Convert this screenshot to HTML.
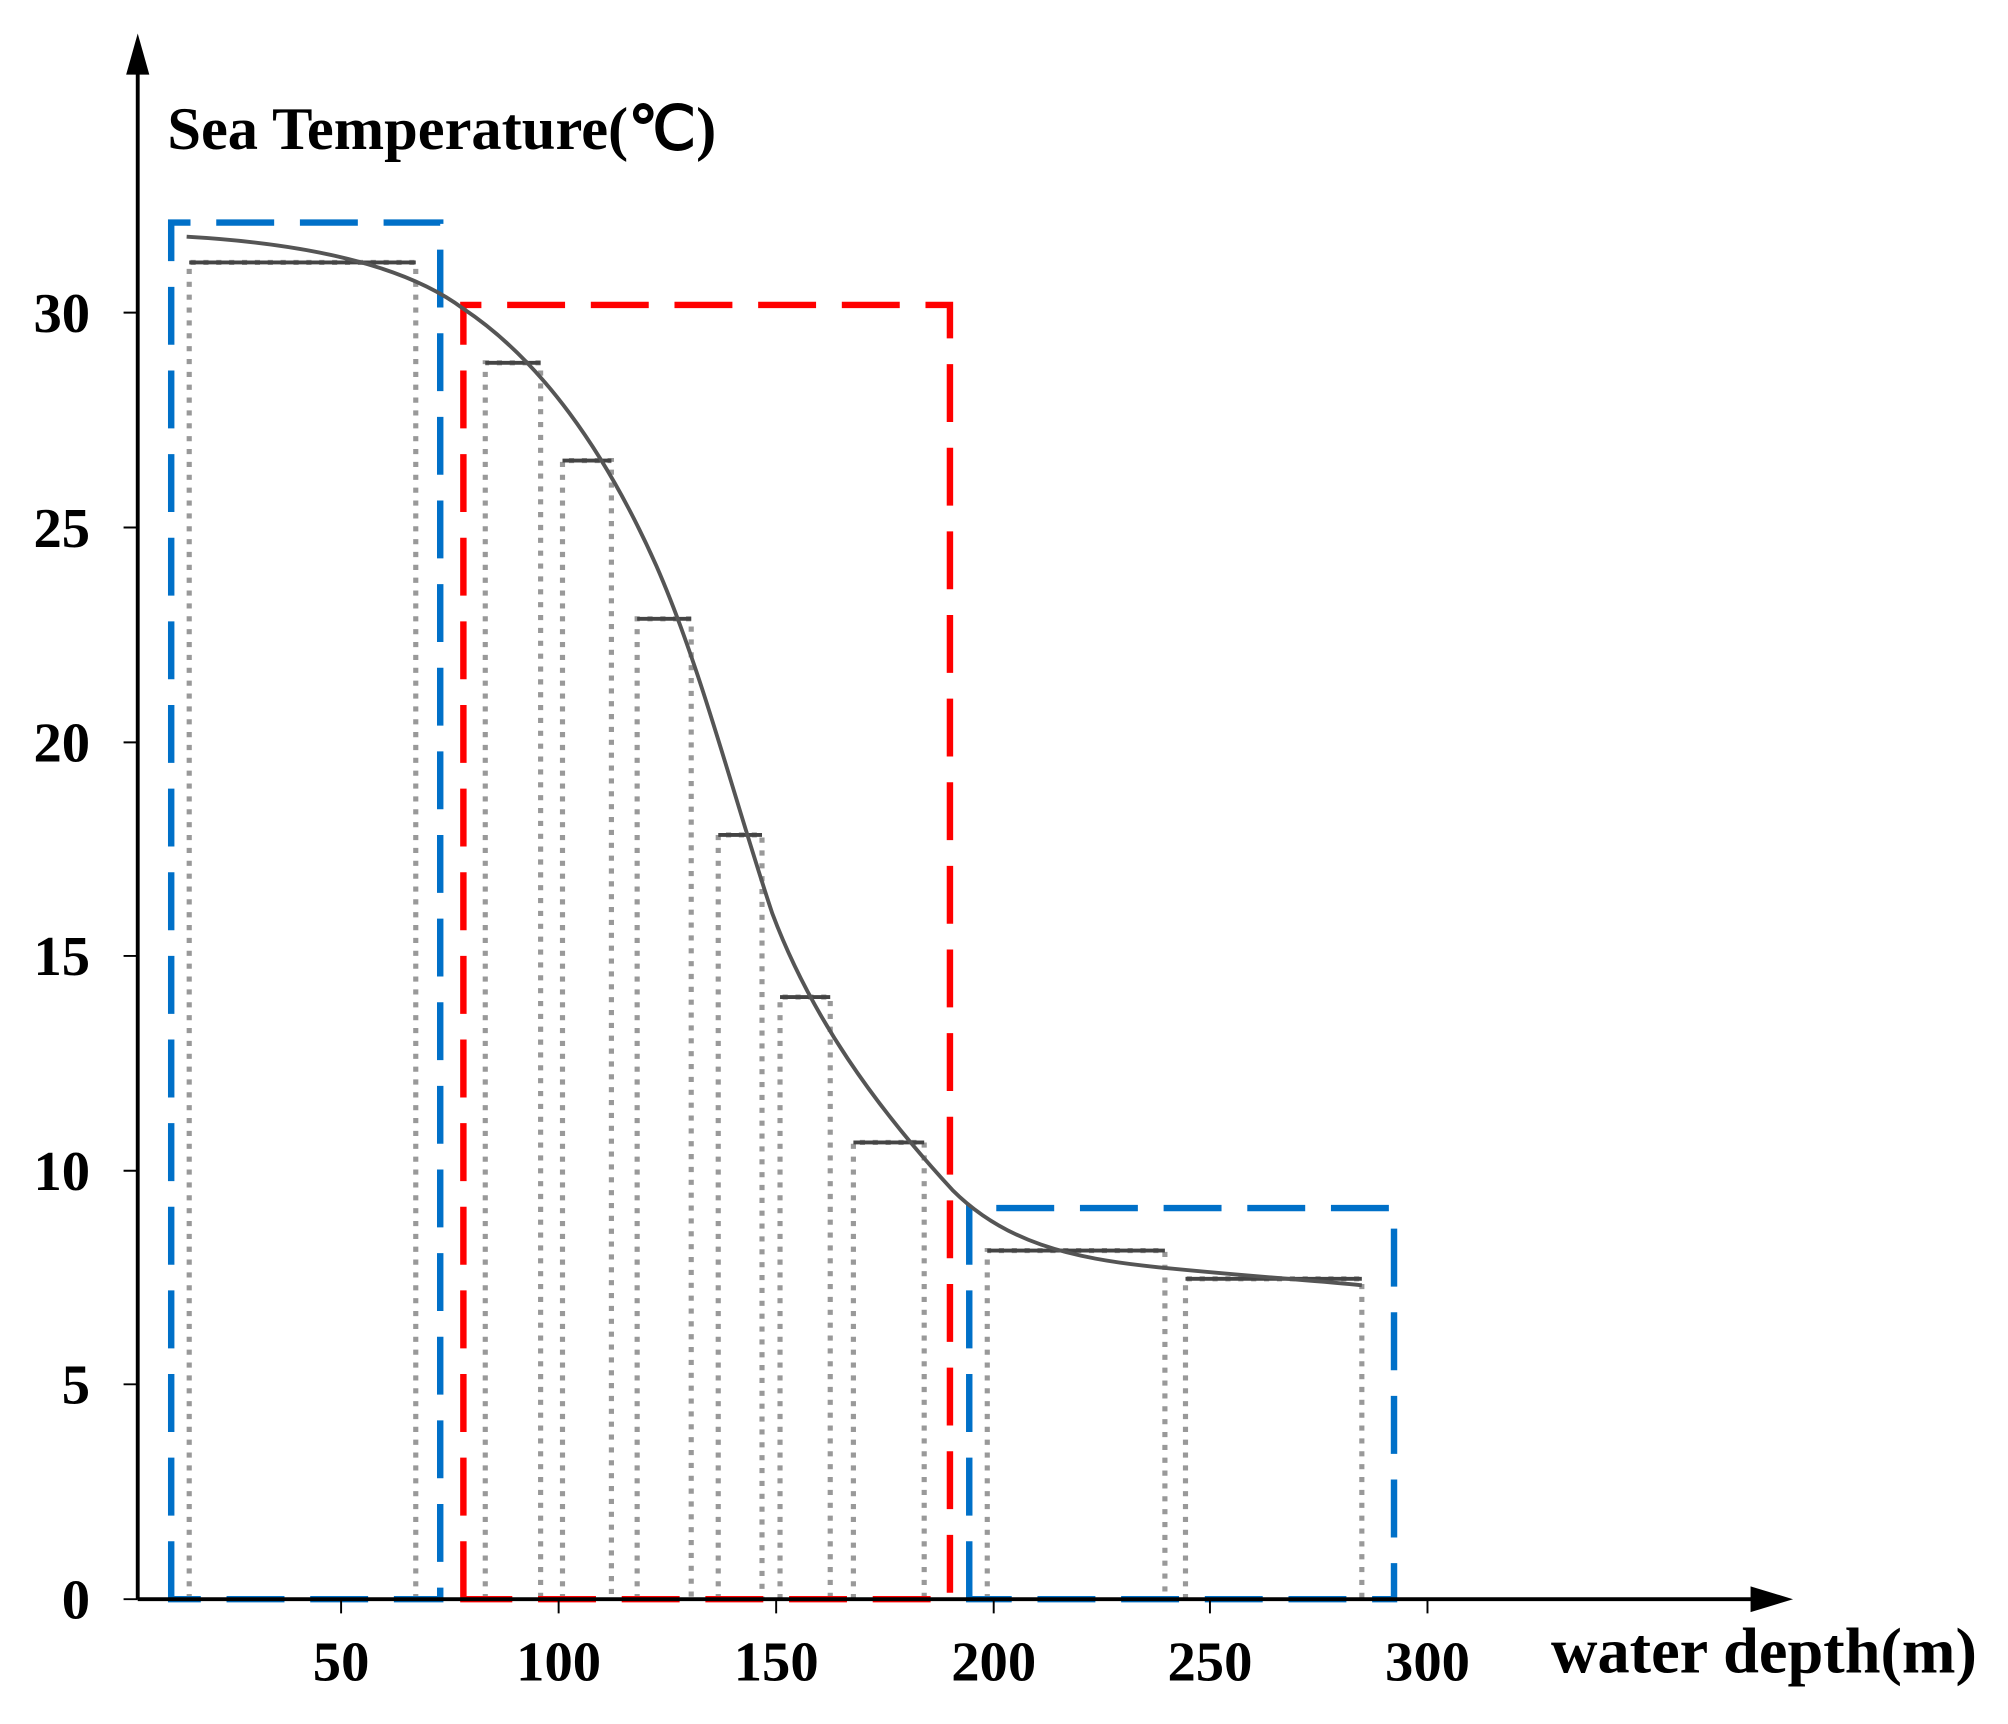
<!DOCTYPE html>
<html><head><style>html,body{margin:0;padding:0;background:#fff}svg{display:block}</style></head>
<body>
<svg width="2008" height="1724" viewBox="0 0 1560 1340" preserveAspectRatio="none" xmlns="http://www.w3.org/2000/svg">
<rect width="1560" height="1340" fill="#fff"/>
<g stroke="#999" stroke-width="4" stroke-dasharray="4 6" fill="none">
<path d="M147 1243V204H323V1243"/>
<path d="M377 1243V282H420V1243"/>
<path d="M437 1243V358H475V1243"/>
<path d="M495 1243V481H537V1243"/>
<path d="M558 1243V649H592V1243"/>
<path d="M606 1243V775H645V1243"/>
<path d="M663 1243V888H718V1243"/>
<path d="M767 1243V972H905V1243"/>
<path d="M921 1243V994H1058V1243"/>
</g>
<g stroke="#444" stroke-width="3">
<path d="M147 204H323M377 282H420M437 358H475M495 481H537M558 649H592M606 775H645M663 888H718M767 972H905M921 994H1058"/>
</g>
<g fill="none" stroke-width="5" stroke-dasharray="45 20">
<path d="M133 1243V173H342V1243Z" stroke="#0070c8"/>
<path d="M360 1243V237H738V1243Z" stroke="#ff0000"/>
<path d="M753 1243V939H1083V1243Z" stroke="#0070c8"/>
</g>
<path d="M145 184 C250 190 320 210 360 240 C420 280 470 350 510 440 C545 520 570 620 600 710 C630 790 680 860 740 925 C780 965 830 978 900 985 C980 993 1020 995 1058 999" fill="none" stroke="#555" stroke-width="3"/>
<g stroke="#000" stroke-width="3">
<line x1="107" y1="45" x2="107" y2="1243"/>
<line x1="107" y1="1243" x2="1370" y2="1243"/>
<path d="M96 243H107M96 410H107M96 577H107M96 743H107M96 910H107M96 1076H107M96 1243H107" stroke-width="1.5"/>
<path d="M265 1243V1254M434 1243V1254M603 1243V1254M772 1243V1254M940 1243V1254M1109 1243V1254" stroke-width="1.5"/>
</g>
<path d="M107 26 L98 58 L116 58 Z" fill="#000"/>
<path d="M1393 1243 L1360 1233 L1360 1253 Z" fill="#000"/>
<g font-family="Liberation Serif, serif" font-weight="bold" font-size="44" fill="#000">
<g text-anchor="end">
<text x="70" y="258">30</text><text x="70" y="425">25</text><text x="70" y="592">20</text>
<text x="70" y="758">15</text><text x="70" y="925">10</text><text x="70" y="1091">5</text><text x="70" y="1258">0</text>
</g>
<g text-anchor="middle">
<text x="265" y="1306">50</text><text x="434" y="1306">100</text><text x="603" y="1306">150</text>
<text x="772" y="1306">200</text><text x="940" y="1306">250</text><text x="1109" y="1306">300</text>
</g>
<text x="1205" y="1300" font-size="50">water depth(m)</text>
<text x="130" y="116" font-size="47">Sea Temperature(℃)</text>
</g>
</svg>
</body></html>
